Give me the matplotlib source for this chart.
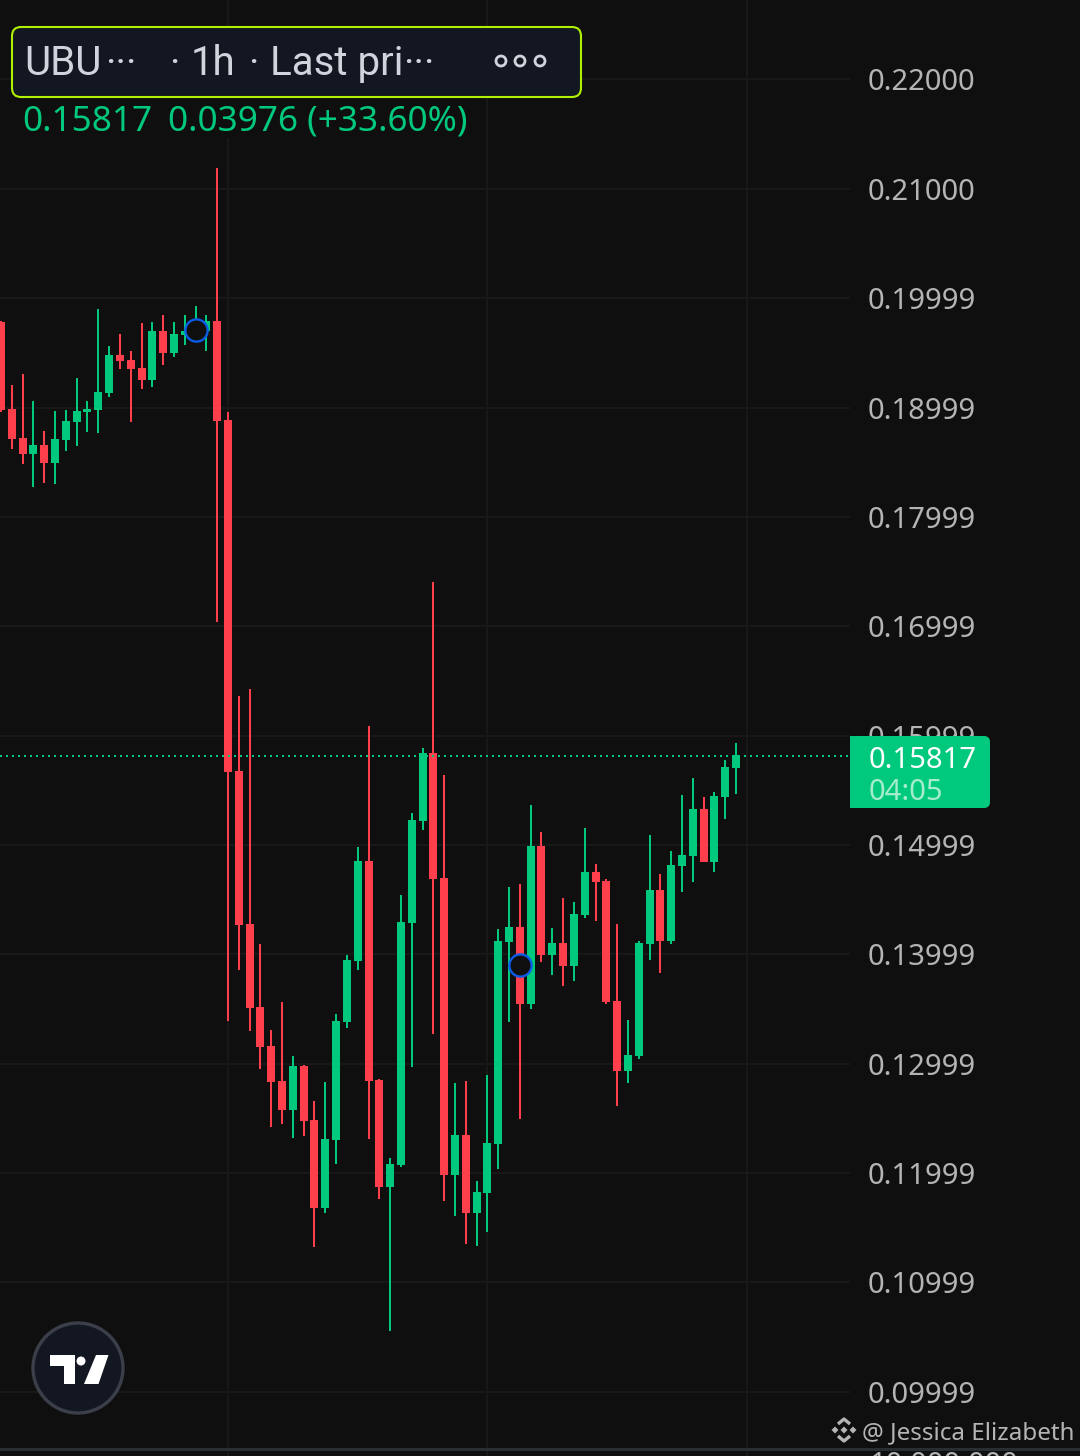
import matplotlib
matplotlib.use("Agg")
import matplotlib.pyplot as plt
from matplotlib.patches import FancyBboxPatch, Rectangle, Circle, Polygon
import numpy as np

plt.rcParams['font.family'] = ['Noto Sans', 'DejaVu Sans']

# candles, oldest first
opens = [0.19782, 0.18987, 0.18721, 0.18575, 0.18657, 0.18493, 0.18703, 0.18868, 0.18959, 0.18978,
         0.19133, 0.19481, 0.19435, 0.19362, 0.19252, 0.19700, 0.19499, 0.19663, 0.19654, 0.19700,
         0.19791, 0.18886, 0.15676, 0.14277, 0.13518, 0.13161, 0.12841, 0.12576, 0.12978, 0.12485,
         0.11680, 0.12302, 0.13381, 0.13939, 0.14853, 0.12850, 0.11872, 0.12073, 0.14286, 0.15219,
         0.15841, 0.14698, 0.11982, 0.12347, 0.11634, 0.11817, 0.12265, 0.14112, 0.14250, 0.13545,
         0.14990, 0.13994, 0.14103, 0.13893, 0.14359, 0.14753, 0.14670, 0.13573, 0.12933, 0.13070,
         0.14094, 0.14588, 0.14122, 0.14807, 0.14899, 0.15329, 0.14844, 0.15438, 0.15704]
closes = [0.18978, 0.18712, 0.18575, 0.18657, 0.18493, 0.18712, 0.18877, 0.18968, 0.18987, 0.19142,
          0.19481, 0.19426, 0.19352, 0.19252, 0.19700, 0.19499, 0.19673, 0.19700, 0.19764, 0.19791,
          0.18877, 0.15667, 0.14268, 0.13509, 0.13152, 0.12832, 0.12576, 0.12978, 0.12475, 0.11680,
          0.12311, 0.13390, 0.13948, 0.14853, 0.12841, 0.11872, 0.12082, 0.14295, 0.15228, 0.15841,
          0.14689, 0.11982, 0.12347, 0.11634, 0.11826, 0.12274, 0.14122, 0.14250, 0.13545, 0.14990,
          0.13994, 0.14103, 0.13893, 0.14368, 0.14753, 0.14661, 0.13564, 0.12933, 0.13079, 0.14103,
          0.14588, 0.14122, 0.14817, 0.14908, 0.15329, 0.14844, 0.15448, 0.15713, 0.15823]
highs = [0.19791, 0.19206, 0.19307, 0.19060, 0.18786, 0.18968, 0.18978, 0.19270, 0.19060, 0.19901,
         0.19563, 0.19673, 0.19517, 0.19773, 0.19782, 0.19846, 0.19782, 0.19846, 0.19929, 0.19846,
         0.21191, 0.18959, 0.16362, 0.16426, 0.14094, 0.13308, 0.13564, 0.13070, 0.12988, 0.12658,
         0.12832, 0.13454, 0.13994, 0.14981, 0.16088, 0.12860, 0.12137, 0.14542, 0.15292, 0.15887,
         0.17405, 0.15640, 0.12823, 0.12841, 0.11927, 0.12896, 0.14231, 0.14615, 0.14643, 0.15365,
         0.15118, 0.14240, 0.14515, 0.14478, 0.15155, 0.14826, 0.14689, 0.14277, 0.13399, 0.14122,
         0.15091, 0.14734, 0.14945, 0.15457, 0.15612, 0.15438, 0.15484, 0.15777, 0.15932]
lows = [0.18959, 0.18621, 0.18484, 0.18273, 0.18310, 0.18301, 0.18603, 0.18648, 0.18776, 0.18767,
        0.19096, 0.19352, 0.18868, 0.19170, 0.19188, 0.19389, 0.19462, 0.19572, 0.19636, 0.19517,
        0.17039, 0.13390, 0.13856, 0.13299, 0.12951, 0.12421, 0.12448, 0.12320, 0.12338, 0.11323,
        0.11634, 0.12082, 0.13326, 0.13856, 0.12311, 0.11762, 0.10555, 0.12055, 0.12969, 0.15137,
        0.13271, 0.11744, 0.11607, 0.11351, 0.11332, 0.11460, 0.12036, 0.13381, 0.12494, 0.13500,
        0.13930, 0.13811, 0.13710, 0.13756, 0.14332, 0.14304, 0.13545, 0.12613, 0.12823, 0.13042,
        0.13948, 0.13829, 0.14094, 0.14570, 0.14661, 0.14844, 0.14753, 0.15237, 0.15466]

tick_prices = [0.22, 0.21, 0.19999, 0.18999, 0.17999, 0.16999, 0.15999, 0.14999,
               0.13999, 0.12999, 0.11999, 0.10999, 0.09999]
tick_labels = ['0.22000', '0.21000', '0.19999', '0.18999', '0.17999', '0.16999', '0.15999',
               '0.14999', '0.13999', '0.12999', '0.11999', '0.10999', '0.09999']
time_grid = [21, 45, 69]
last_price = 0.15817
mark_index = [18, 48]
mark_price = [0.19709, 0.13902]

BG = '#0f0f0f'
GRID = '#181818'
GREEN = '#00c97d'
RED = '#ff3f4c'
W, H = 1080, 1456
AX_W = 850

fig = plt.figure(figsize=(W / 100, H / 100), dpi=100, facecolor=BG)
ax = fig.add_axes([0, 0, AX_W / W, 1], facecolor=BG)

x = np.arange(len(opens))
opens = np.array(opens)
closes = np.array(closes)
up = closes >= opens
colors = [GREEN if u else RED for u in up]

ax.vlines(x, lows, highs, colors=colors, linewidth=1.44, zorder=3)
ax.bar(x, np.abs(closes - opens), bottom=np.minimum(opens, closes), width=0.74, color=colors, linewidth=0, zorder=4)

ax.set_xlim(-0.0925, 78.54)
ax.set_ylim(0.09412, 0.22727)
ax.set_yticks(tick_prices)
ax.set_yticklabels(tick_labels, fontsize=21, color='#b4b4b4')
ax.yaxis.tick_right()
ax.tick_params(axis='y', length=0, pad=13)
ax.set_xticks(time_grid)
ax.tick_params(axis='x', length=0, labelbottom=False)
ax.grid(True, color=GRID, linewidth=1.44)
ax.set_axisbelow(True)
for s in ax.spines.values():
    s.set_visible(False)

ax.axhline(last_price, color=GREEN, linewidth=1.44, linestyle=(0, (1, 2)), dash_capstyle='butt', zorder=5)
ax.plot(mark_index, mark_price, linestyle='none', marker='o', markersize=16, markerfacecolor=BG,
        markeredgecolor='#0a5ce6', markeredgewidth=1.7, zorder=6)

# overlay in screen pixels for the app furniture
ov = fig.add_axes([0, 0, 1, 1])
ov.set_xlim(0, W)
ov.set_ylim(H, 0)
ov.axis('off')
ov.patch.set_alpha(0)

ov.add_patch(Rectangle((12, 98), 470, 40, facecolor=BG, edgecolor='none'))
ov.add_patch(FancyBboxPatch((12, 27), 569, 70, boxstyle='round,pad=0,rounding_size=9', facecolor='#131722',
                            edgecolor='#aef000', linewidth=1.5))
hdr = '#d1d4dc'
hdr_font = dict(color=hdr, fontsize=29, family='Roboto', va='baseline')
ov.text(24, 75, 'UBU', **hdr_font)
ov.text(105, 75, '···', **hdr_font)
ov.text(169, 75, '·', **hdr_font)
ov.text(191, 75, '1h', **hdr_font)
ov.text(248, 75, '·', **hdr_font)
ov.text(270, 75, 'Last pri', **hdr_font)
ov.text(403, 75, '···', **hdr_font)
for cx in (501, 520, 540):
    ov.add_patch(Circle((cx, 61), 5, facecolor='none', edgecolor=hdr, linewidth=2))

ov.text(22, 131, '0.15817', color=GREEN, fontsize=25.3, va='baseline')
ov.text(168, 131, '0.03976 (+33.60%)', color=GREEN, fontsize=25.3, va='baseline')

# price badge
ov.add_patch(FancyBboxPatch((850, 736), 140, 72, boxstyle='round,pad=0,rounding_size=6', facecolor=GREEN, edgecolor='none'))
ov.add_patch(Rectangle((850, 736), 20, 72, facecolor=GREEN, edgecolor='none'))
ov.text(869, 760, '0.15817', color='white', fontsize=21, va='center')
ov.text(869, 792, '04:05', color='#a5eccf', fontsize=21, va='center')

# logo
ov.add_patch(Circle((78, 1368), 45, facecolor='#131722', edgecolor='#3b3f4a', linewidth=2.4))
ov.add_patch(Polygon([(50, 1355), (75, 1355), (75, 1384), (63.5, 1384), (63.5, 1366), (50, 1366)], facecolor='white', edgecolor='none'))
ov.add_patch(Circle((81, 1361), 4.5, facecolor='white', edgecolor='none'))
ov.add_patch(Polygon([(96, 1355), (108.5, 1355), (98.5, 1384), (84, 1384)], facecolor='white', edgecolor='none'))

# watermark
wm = '#b4b4b4'
for cx, cy in ((835, 1430), (844, 1430), (853, 1430)):
    ov.add_patch(Polygon([(cx - 3.5, cy), (cx, cy - 3.5), (cx + 3.5, cy), (cx, cy + 3.5)], facecolor=wm, edgecolor='none'))
ov.plot([838, 844, 850], [1424, 1419, 1424], color=wm, linewidth=2.4, solid_capstyle='butt')
ov.plot([838, 844, 850], [1436, 1441, 1436], color=wm, linewidth=2.4, solid_capstyle='butt')
ov.text(862, 1439, '@ Jessica Elizabeth', color=wm, fontsize=17.4, va='baseline')

ov.add_patch(Rectangle((0, 1448), W, 3, facecolor='#2a2e33', edgecolor='none'))
ov.text(869, 1473, '10,000,000', color='#b4b4b4', fontsize=21, va='baseline', clip_on=True)

fig.savefig('out.png', dpi=100, facecolor=BG)
